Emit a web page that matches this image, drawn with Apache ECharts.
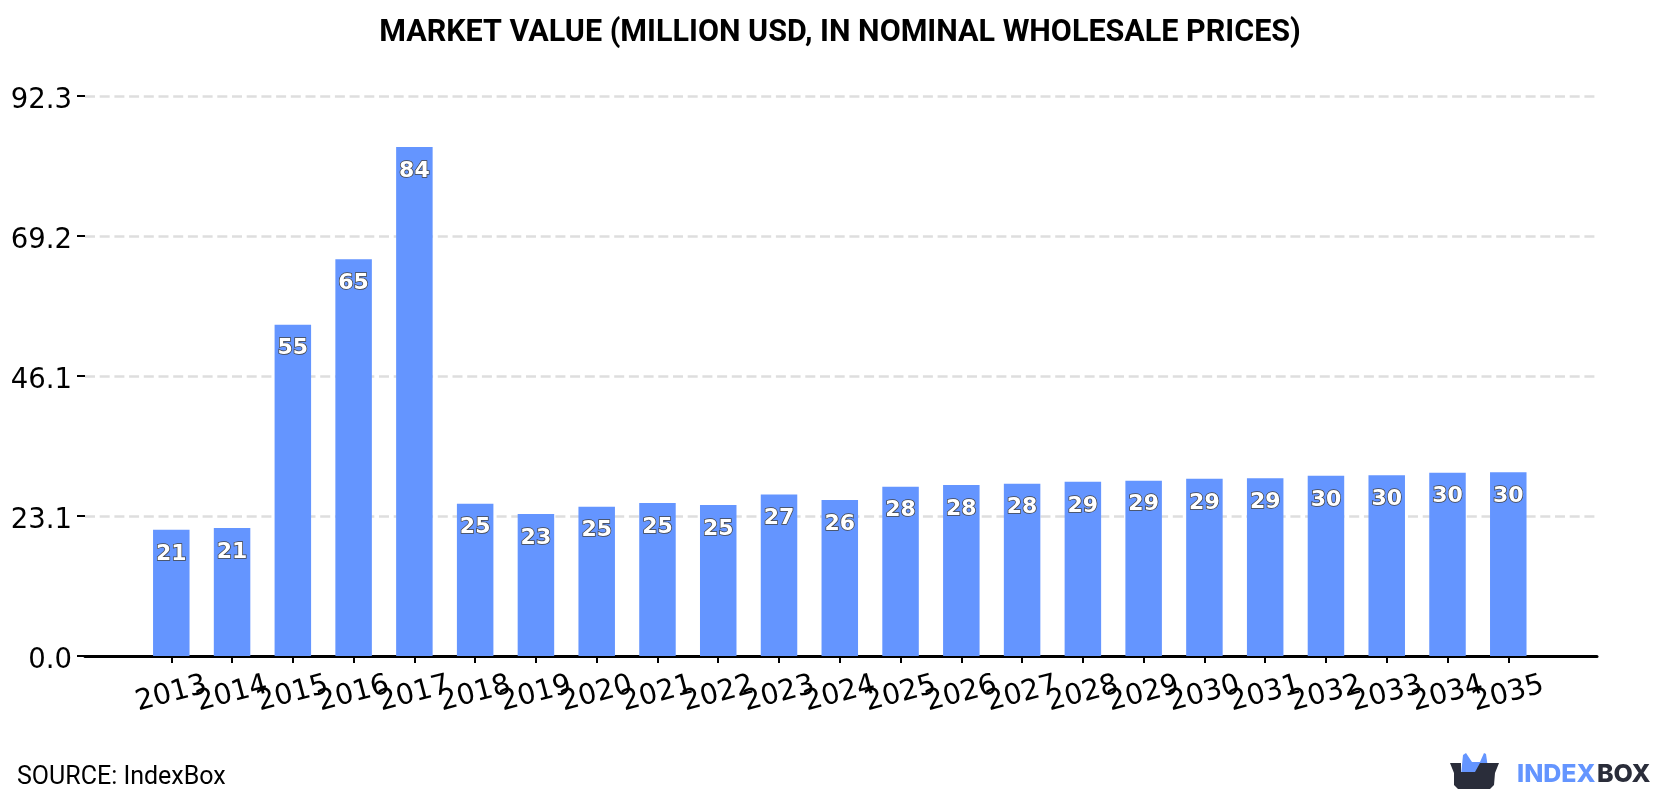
<!DOCTYPE html>
<html>
<head>
<meta charset="utf-8">
<style>html,body{margin:0;padding:0;background:#fff}#chart{width:1680px;height:800px}</style>
<script src="https://cdn.jsdelivr.net/npm/echarts@6/dist/echarts.min.js"></script>
</head>
<body>
<div id="chart"></div>
<script>
const years = [2013,2014,2015,2016,2017,2018,2019,2020,2021,2022,2023,2024,2025,2026,2027,2028,2029,2030,2031,2032,2033,2034,2035];
const marketValue = [20.8,21.1,54.6,65.4,83.9,25.1,23.4,24.6,25.2,24.9,26.6,25.7,27.9,28.2,28.4,28.7,28.9,29.2,29.3,29.7,29.8,30.2,30.3];
const yTicks = [0,23.075,46.15,69.225,92.3];
const yLabels = ['0.0','23.1','46.1','69.2','92.3'];
const xMin = 2011.58;
const xMax = 2036.46;

const chart = echarts.init(document.getElementById('chart'));
chart.setOption({
  animation: false,
  backgroundColor: '#fff',
  title: {
    text: 'MARKET VALUE (MILLION USD, IN NOMINAL WHOLESALE PRICES)',
    left: 835, top: 13, textAlign: 'center',
    textStyle: {fontFamily: 'Roboto', fontWeight: 700, fontSize: 30.5, color: '#000'}
  },
  grid: {left: 85, right: 83, top: 96, bottom: 144},
  xAxis: {
    type: 'value', min: xMin, max: xMax,
    splitLine: {show: false},
    axisLine: {show: true, onZero: false, lineStyle: {color: '#000', width: 3}},
    axisTick: {show: true, customValues: years, length: 7, lineStyle: {color: '#000', width: 2}},
    axisLabel: {
      // blank labels at both ends keep the crowded year labels from being culled
      customValues: [xMin, ...years, xMax], rotate: 15, margin: 38,
      align: 'center', verticalAlign: 'middle', hideOverlap: false,
      fontFamily: 'DejaVu Sans', fontSize: 28.5, color: '#000',
      formatter: v => years.includes(v) ? String(v) : ''
    }
  },
  yAxis: {
    type: 'value', min: 0, max: 92.3,
    axisLine: {show: false},
    axisTick: {show: true, customValues: yTicks, length: 8, lineStyle: {color: '#000', width: 2}},
    splitLine: {show: true, lineStyle: {color: '#dedede', type: [10, 4.7], width: 2.5}},
    interval: 23.075,
    axisLabel: {
      customValues: yTicks, margin: 13,
      showMinLabel: true, showMaxLabel: true,
      color: '#000',
      formatter: v => '{t|' + yLabels[yTicks.indexOf(v)] + '}',
      rich: {t: {fontFamily: 'DejaVu Sans', fontSize: 27.5, color: '#000', padding: [9, 0, 0, 0]}}
    }
  },
  series: [{
    type: 'bar',
    data: years.map((y, i) => [y, marketValue[i]]),
    barWidth: 36.5,
    itemStyle: {color: '#6495ff'},
    label: {
      show: true, position: 'insideTop', distance: 13,
      fontFamily: 'DejaVu Sans', fontWeight: 700, fontSize: 22,
      color: '#fff', textBorderColor: '#444', textBorderWidth: 1.5,
      formatter: p => String(Math.round(p.value[1]))
    }
  }],
  graphic: [
    {type: 'text', left: 17, top: 765, style: {text: 'SOURCE: IndexBox', fontFamily: 'Roboto', fontSize: 25, fill: '#000'}},
    // logo mark: blue tabs rising from a dark box
    {type: 'polygon', shape: {points: [[1461,775],[1463,755],[1466,753],[1472,762],[1480,762],[1484,753],[1486,754],[1489,775]]}, style: {fill: '#6495ff'}},
    {type: 'polygon', shape: {points: [[1450,763],[1461,763],[1461,772],[1475,772],[1480,763],[1499,763],[1495,773],[1494,785],[1490,789],[1458,789],[1454,785],[1454,773]]}, style: {fill: '#2a2d3a'}},
    {type: 'text', left: 1517, top: 762, style: {text: 'INDEX', fontFamily: 'Inter', fontWeight: 800, fontSize: 25, fill: '#6495ff'}},
    {type: 'text', left: 1597, top: 762, style: {text: 'BOX', fontFamily: 'Inter', fontWeight: 800, fontSize: 25, fill: '#2a2d3a'}}
  ]
});
</script>
</body>
</html>
